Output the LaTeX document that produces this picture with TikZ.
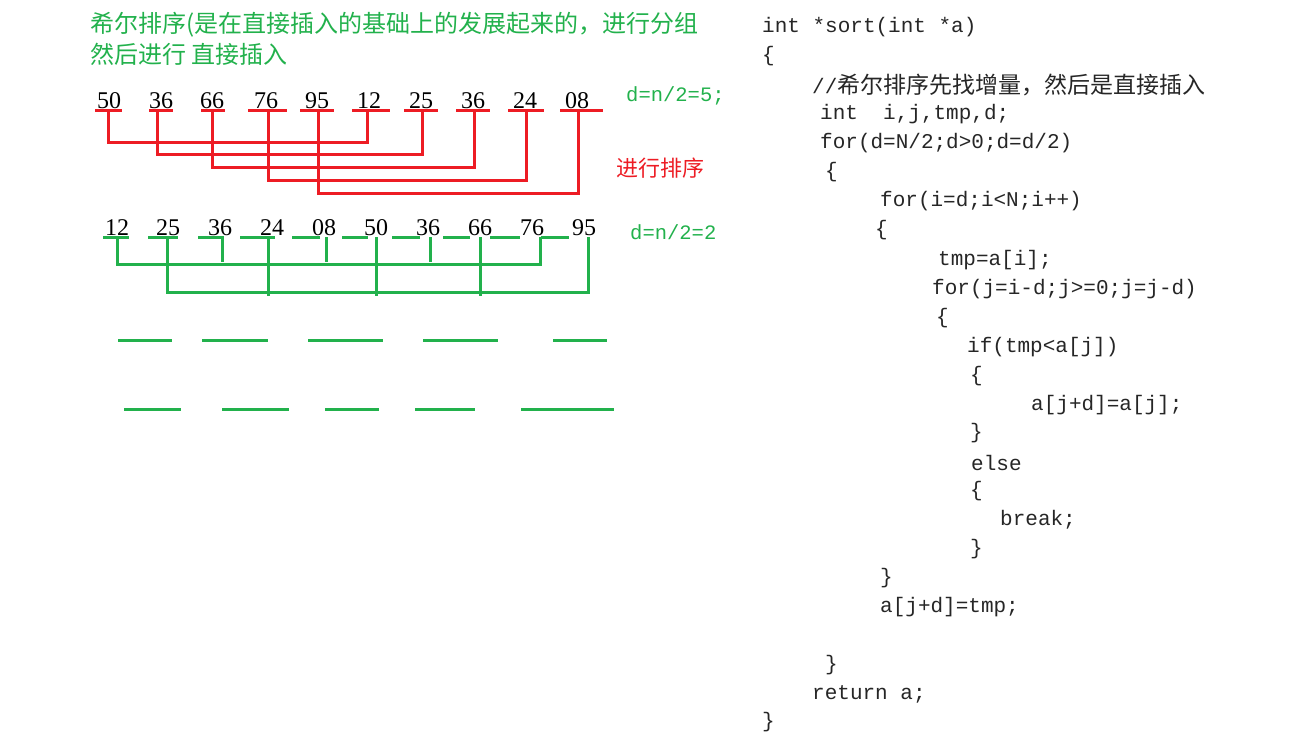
\documentclass[tikz,border=0pt]{standalone}
\usepackage{fontspec}
\setmainfont{Liberation Serif}
\newfontfamily\cjk{Noto Sans CJK SC}
\newfontfamily\mono{Liberation Mono}
\definecolor{rd}{RGB}{237,28,36}
\definecolor{gn}{RGB}{34,177,76}
\begin{document}
\begin{tikzpicture}[x=1pt,y=-1pt,
 num/.style={font=\fontsize{24}{24}\selectfont,inner sep=0pt},
 code/.style={anchor=west,inner sep=0pt,font=\mono\fontsize{21}{21}\selectfont,text=black!85},
 cn/.style={anchor=west,inner sep=0pt,font=\cjk\fontsize{24}{24}\selectfont},
 lab/.style={anchor=west,inner sep=0pt,font=\mono\fontsize{20.5}{20.5}\selectfont,text=gn},
 rl/.style={rd,line width=3pt},
 gl/.style={gn,line width=3pt}]
\useasboundingbox (0,0) rectangle (1295,748);
% title
\node[cn,text=gn] (t1) at (90,25) {希尔排序(是在直接插入的基础上的发展起来的，进行分组};
\node[cn,text=gn] (t2) at (90,54) {然后进行 直接插入};
% row 1
\foreach \v/\x [count=\i] in {50/109,36/161,66/212,76/266,95/317,12/369,25/421,36/473,24/525,08/577}
 {\node[num] (a\i) at (\x,101) {\v};}
\foreach \a/\b in {95/122,149/173,201/225,248/287,300/334,352/390,404/438,456/490,508/544,560/603}
 {\draw[rl] (\a,110) -- (\b,110);}
\draw[rl] (108,110) -- (108,142) -- (367,142) -- (367,110);
\draw[rl] (157,110) -- (157,154) -- (422,154) -- (422,110);
\draw[rl] (212,110) -- (212,167) -- (474,167) -- (474,110);
\draw[rl] (268,110) -- (268,180) -- (526,180) -- (526,110);
\draw[rl] (318,110) -- (318,193) -- (578,193) -- (578,110);
\node[lab] (d1) at (626,96) {d=n/2=5;};
\node[cn,text=rd,font=\cjk\fontsize{22}{22}\selectfont] (px) at (616,168) {进行排序};
% row 2
\foreach \v/\x [count=\i] in {12/117,25/168,36/220,24/272,08/324,50/376,36/428,66/480,76/532,95/584}
 {\node[num] (b\i) at (\x,228) {\v};}
\foreach \a/\b in {103/129,148/178,198/224,240/275,292/320,342/368,392/420,443/470,490/520,541/569}
 {\draw[gl] (\a,237) -- (\b,237);}
\draw[gl] (117,237) -- (117,264) -- (540,264) -- (540,237);
\foreach \x in {222,326,376,430} {\draw[gl] (\x,237) -- (\x,262);}
\draw[gl] (167,237) -- (167,292) -- (588,292) -- (588,237);
\foreach \x in {268,376,480} {\draw[gl] (\x,237) -- (\x,296);}
\node[lab] (d2) at (630,232) {d=n/2=2};
\foreach \a/\b in {118/172,202/268,308/383,423/498,553/607} {\draw[gl] (\a,340) -- (\b,340);}
\foreach \a/\b in {124/181,222/289,325/379,415/475,521/614} {\draw[gl] (\a,409) -- (\b,409);}
% code
\node[code] (c1) at (762,27) {int *sort(int *a)};
\node[code] (c2) at (762,56) {\{};
\node[code] (c3) at (812,85) {//{\cjk\fontsize{23}{23}\selectfont 希尔排序先找增量，然后是直接插入}};
\node[code] (c4) at (820,114) {int~~i,j,tmp,d;};
\node[code] (c5) at (820,143) {for(d=N/2;d>0;d=d/2)};
\node[code] (c6) at (825,172) {\{};
\node[code] (c7) at (880,201) {for(i=d;i<N;i++)};
\node[code] (c8) at (875,230) {\{};
\node[code] (c9) at (938,260) {tmp=a[i];};
\node[code] (c10) at (932,289) {for(j=i-d;j>=0;j=j-d)};
\node[code] (c11) at (936,318) {\{};
\node[code] (c12) at (967,347) {if(tmp<a[j])};
\node[code] (c13) at (970,376) {\{};
\node[code] (c14) at (1031,405) {a[j+d]=a[j];};
\node[code] (c15) at (970,433) {\}};
\node[code] (c16) at (971,463) {else};
\node[code] (c17) at (970,491) {\{};
\node[code] (c18) at (1000,520) {break;};
\node[code] (c19) at (970,549) {\}};
\node[code] (c20) at (880,578) {\}};
\node[code] (c21) at (880,607) {a[j+d]=tmp;};
\node[code] (c22) at (825,665) {\}};
\node[code] (c23) at (812,694) {return a;};
\node[code] (c24) at (762,722) {\}};
\end{tikzpicture}
\end{document}
